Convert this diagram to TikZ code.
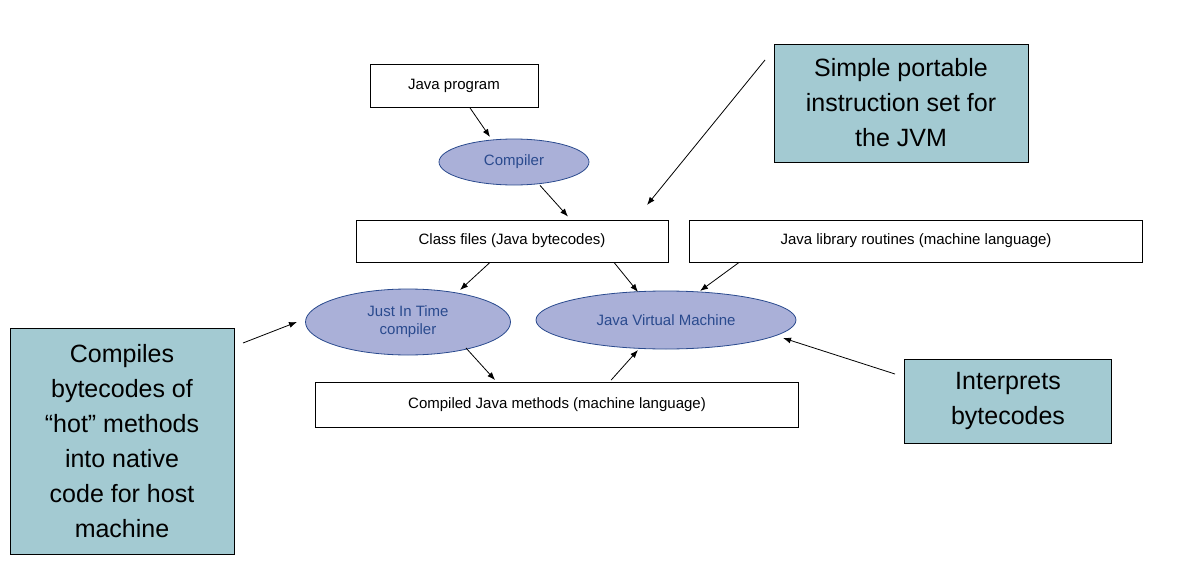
\documentclass[tikz,border=0pt]{standalone}
\usepackage{fontspec}
\setmainfont{Liberation Sans}
\usetikzlibrary{shapes.geometric,arrows.meta,calc}
\definecolor{ellfill}{HTML}{AAB0D8}
\definecolor{elltext}{HTML}{2A4A8E}
\definecolor{callfill}{HTML}{A3CAD2}
\begin{document}
\begin{tikzpicture}[x=1pt,y=-1pt,
  box/.style={draw=black,fill=white,line width=0.8pt,inner sep=0pt,font=\fontsize{15}{18}\selectfont},
  ell/.style={ellipse,draw=elltext,fill=ellfill,line width=0.8pt,inner sep=0pt,text=elltext,font=\fontsize{15}{18}\selectfont,align=center},
  call/.style={draw=black,fill=callfill,line width=0.9pt,inner sep=0pt,align=center,font=\fontsize{25}{35}\selectfont},
  arr/.style={-{Latex[length=8pt,width=6pt]},line width=0.8pt}]
\useasboundingbox (0,0) rectangle (1195,562);
\node[box,minimum width=168,minimum height=43] (jp) at (454,86) {Java program};
\node[ell,minimum width=150,minimum height=46] (comp) at (514,162) {Compiler};
\node[box,minimum width=312,minimum height=42] (cf) at (512,241) {Class files (Java bytecodes)};
\node[box,minimum width=453,minimum height=42] (lib) at (916,241) {Java library routines (machine language)};
\node[ell,minimum width=205,minimum height=66] (jit) at (408,322) {Just In Time\\compiler};
\node[ell,minimum width=260,minimum height=58] (jvm) at (666,320) {Java Virtual Machine};
\node[box,minimum width=483,minimum height=45] (cm) at (557,405) {Compiled Java methods (machine language)};
\node[call,minimum width=254,minimum height=118] (c1) at (901,103) {Simple portable\\instruction set for\\the JVM};
\node[call,minimum width=224,minimum height=226] (c2) at (122,441) {Compiles\\bytecodes of\\“hot” methods\\into native\\code for host\\machine};
\node[call,minimum width=207,minimum height=84] (c3) at (1008,401) {Interprets\\bytecodes};
\coordinate (p1) at (765,60);
\coordinate (q1) at (647,205);
\coordinate (p2) at (243,343);
\coordinate (q2) at (297,322);
\coordinate (p3) at (895,374);
\coordinate (q3) at (783,338);
\draw[arr] ($(jp.south)+(16,0)$) -- (490,137);
\draw[arr] ($(comp.south)+(26,0)$) -- ($(cf.north)+(56,-3)$);
\draw[arr] ($(cf.south)+(-22,0)$) -- (460,290);
\draw[arr] ($(cf.south)+(102,0)$) -- (638,292);
\draw[arr] ($(lib.south west)+(50,0)$) -- (700,291);
\draw[arr] (466,348) -- ($(cm.north west)+(180,-2)$);
\draw[arr] ($(cm.north west)+(296,-2)$) -- (638,350);
\draw[arr] (p1) -- (q1);
\draw[arr] (p2) -- (q2);
\draw[arr] (p3) -- (q3);
\end{tikzpicture}
\end{document}
